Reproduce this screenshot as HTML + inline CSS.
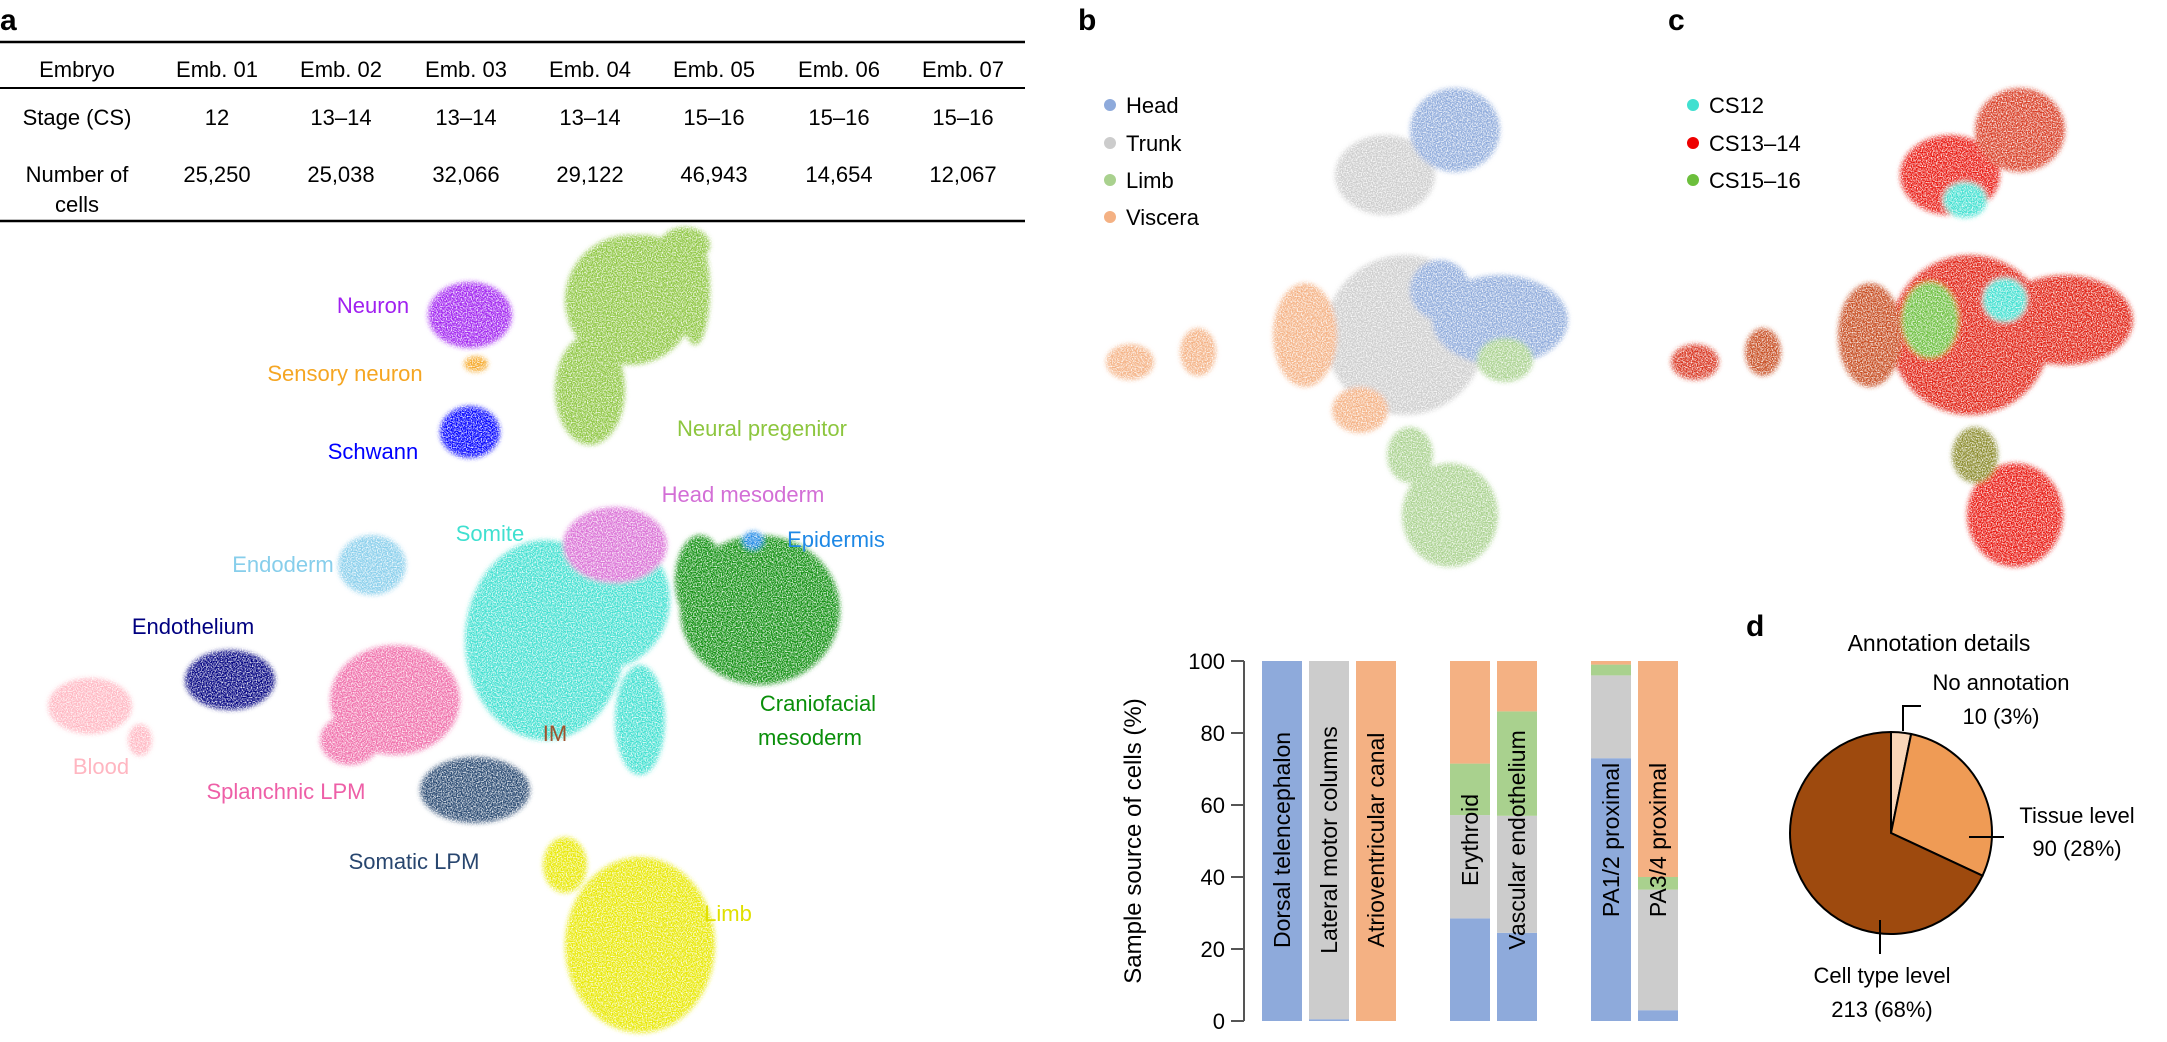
<!DOCTYPE html>
<html><head><meta charset="utf-8"><style>
html,body{margin:0;padding:0;background:#fff;}
svg{display:block;font-family:"Liberation Sans",sans-serif;}
</style></head><body>
<svg id="fig" width="2167" height="1042" viewBox="0 0 2167 1042" xmlns="http://www.w3.org/2000/svg">
<defs>
<filter id="speck" x="-20%" y="-20%" width="140%" height="140%">
<feTurbulence type="fractalNoise" baseFrequency="0.8" numOctaves="1" seed="3" result="n"/>
<feColorMatrix in="n" type="matrix" values="0 0 0 0 0  0 0 0 0 0  0 0 0 0 0  0 0 0 -2.6 2.0" result="m"/>
<feGaussianBlur in="SourceGraphic" stdDeviation="2.5" result="b"/>
<feComposite in="b" in2="m" operator="in"/>
</filter>
</defs>

<text x="0" y="30" font-size="30" font-weight="bold">a</text>
<text x="1078" y="30" font-size="30" font-weight="bold">b</text>
<text x="1668" y="30" font-size="30" font-weight="bold">c</text>
<text x="1746" y="636" font-size="30" font-weight="bold">d</text>

<g font-size="22" text-anchor="middle">
<line x1="0" y1="42" x2="1025" y2="42" stroke="#000" stroke-width="2.5"/>
<line x1="0" y1="88" x2="1025" y2="88" stroke="#000" stroke-width="2"/>
<line x1="0" y1="221" x2="1025" y2="221" stroke="#000" stroke-width="2.5"/>
<text x="77" y="77">Embryo</text>
<text x="217" y="77">Emb. 01</text><text x="341" y="77">Emb. 02</text><text x="466" y="77">Emb. 03</text><text x="590" y="77">Emb. 04</text><text x="714" y="77">Emb. 05</text><text x="839" y="77">Emb. 06</text><text x="963" y="77">Emb. 07</text>
<text x="77" y="125">Stage (CS)</text>
<text x="217" y="125">12</text><text x="341" y="125">13–14</text><text x="466" y="125">13–14</text><text x="590" y="125">13–14</text><text x="714" y="125">15–16</text><text x="839" y="125">15–16</text><text x="963" y="125">15–16</text>
<text x="77" y="182">Number of</text><text x="77" y="212">cells</text>
<text x="217" y="182">25,250</text><text x="341" y="182">25,038</text><text x="466" y="182">32,066</text><text x="590" y="182">29,122</text><text x="714" y="182">46,943</text><text x="839" y="182">14,654</text><text x="963" y="182">12,067</text>
</g>

<g filter="url(#speck)">
<ellipse cx="630" cy="300" rx="65" ry="65" fill="#8dc63f"/>
<ellipse cx="640" cy="270" rx="55" ry="35" fill="#8dc63f"/>
<ellipse cx="590" cy="390" rx="35" ry="55" fill="#8dc63f"/>
<ellipse cx="695" cy="290" rx="15" ry="55" fill="#8dc63f"/>
<ellipse cx="685" cy="245" rx="25" ry="18" fill="#8dc63f"/>
<ellipse cx="470" cy="315" rx="42" ry="33" fill="#a020f0"/>
<ellipse cx="476" cy="364" rx="12" ry="8" fill="#f5a623"/>
<ellipse cx="470" cy="432" rx="30" ry="26" fill="#0000ff"/>
<ellipse cx="372" cy="565" rx="34" ry="30" fill="#87ceeb"/>
<ellipse cx="545" cy="640" rx="80" ry="100" fill="#40e0d0"/>
<ellipse cx="600" cy="600" rx="70" ry="70" fill="#40e0d0"/>
<ellipse cx="640" cy="720" rx="25" ry="55" fill="#40e0d0"/>
<ellipse cx="615" cy="545" rx="52" ry="38" fill="#da70d6"/>
<ellipse cx="760" cy="610" rx="80" ry="75" fill="#0a8f0a"/>
<ellipse cx="700" cy="580" rx="25" ry="45" fill="#0a8f0a"/>
<ellipse cx="753" cy="540" rx="10" ry="9" fill="#1e88e5"/>
<ellipse cx="395" cy="700" rx="65" ry="55" fill="#f06eaa"/>
<ellipse cx="350" cy="740" rx="30" ry="25" fill="#f06eaa"/>
<ellipse cx="475" cy="790" rx="55" ry="33" fill="#28466f"/>
<ellipse cx="640" cy="945" rx="75" ry="88" fill="#e8e800"/>
<ellipse cx="565" cy="865" rx="22" ry="28" fill="#e8e800"/>
<ellipse cx="230" cy="680" rx="45" ry="30" fill="#000080"/>
<ellipse cx="90" cy="706" rx="42" ry="28" fill="#ffb6c1"/>
<ellipse cx="140" cy="740" rx="12" ry="16" fill="#ffb6c1"/>
</g>
<g font-size="22" text-anchor="middle">
<text x="373" y="313" fill="#a020f0">Neuron</text>
<text x="345" y="381" fill="#f5a623">Sensory neuron</text>
<text x="762" y="436" fill="#8dc63f">Neural pregenitor</text>
<text x="373" y="459" fill="#0000ff">Schwann</text>
<text x="743" y="502" fill="#d36fd6">Head mesoderm</text>
<text x="490" y="541" fill="#40e0d0">Somite</text>
<text x="836" y="547" fill="#1e88e5">Epidermis</text>
<text x="283" y="572" fill="#87ceeb">Endoderm</text>
<text x="193" y="634" fill="#000080">Endothelium</text>
<text x="818" y="711" fill="#0a8f0a">Craniofacial</text>
<text x="810" y="745" fill="#0a8f0a">mesoderm</text>
<text x="555" y="741" fill="#a0522d">IM</text>
<text x="101" y="774" fill="#ffb6c1">Blood</text>
<text x="286" y="799" fill="#ee5fa7">Splanchnic LPM</text>
<text x="414" y="869" fill="#28466f">Somatic LPM</text>
<text x="728" y="921" fill="#e0e000">Limb</text>
</g>

<g filter="url(#speck)">
<ellipse cx="1385" cy="175" rx="50" ry="40" fill="#cccccc"/>
<ellipse cx="1455" cy="130" rx="45" ry="42" fill="#8eaadb"/>
<ellipse cx="1405" cy="335" rx="80" ry="80" fill="#cccccc"/>
<ellipse cx="1500" cy="320" rx="68" ry="45" fill="#8eaadb"/>
<ellipse cx="1440" cy="290" rx="30" ry="30" fill="#8eaadb"/>
<ellipse cx="1505" cy="360" rx="28" ry="22" fill="#a9d18e"/>
<ellipse cx="1305" cy="335" rx="32" ry="52" fill="#f4b183"/>
<ellipse cx="1360" cy="410" rx="28" ry="23" fill="#f4b183"/>
<ellipse cx="1130" cy="362" rx="24" ry="18" fill="#f4b183"/>
<ellipse cx="1198" cy="352" rx="18" ry="24" fill="#f4b183"/>
<ellipse cx="1450" cy="515" rx="48" ry="52" fill="#a9d18e"/>
<ellipse cx="1410" cy="455" rx="23" ry="28" fill="#a9d18e"/>
</g>
<g font-size="22">
<circle cx="1110" cy="105" r="6" fill="#8eaadb"/><text x="1126" y="113">Head</text>
<circle cx="1110" cy="143" r="6" fill="#cccccc"/><text x="1126" y="151">Trunk</text>
<circle cx="1110" cy="180" r="6" fill="#a9d18e"/><text x="1126" y="188">Limb</text>
<circle cx="1110" cy="217" r="6" fill="#f4b183"/><text x="1126" y="225">Viscera</text>
</g>

<g filter="url(#speck)">
<ellipse cx="1950" cy="175" rx="50" ry="40" fill="#e8140f"/>
<ellipse cx="2020" cy="130" rx="45" ry="42" fill="#d83a20"/>
<ellipse cx="1965" cy="200" rx="22" ry="18" fill="#40e0d0"/>
<ellipse cx="1970" cy="335" rx="80" ry="80" fill="#e01a10"/>
<ellipse cx="2065" cy="320" rx="68" ry="45" fill="#e01a10"/>
<ellipse cx="1930" cy="320" rx="28" ry="38" fill="#6cbf3c"/>
<ellipse cx="2005" cy="300" rx="22" ry="22" fill="#40e0d0"/>
<ellipse cx="1870" cy="335" rx="32" ry="52" fill="#c6491b"/>
<ellipse cx="1695" cy="362" rx="24" ry="18" fill="#d8301a"/>
<ellipse cx="1763" cy="352" rx="18" ry="24" fill="#c6491b"/>
<ellipse cx="2015" cy="515" rx="48" ry="52" fill="#e8140f"/>
<ellipse cx="1975" cy="455" rx="23" ry="28" fill="#8a8a2a"/>
</g>
<g font-size="22">
<circle cx="1693" cy="105" r="6" fill="#40e0d0"/><text x="1709" y="113">CS12</text>
<circle cx="1693" cy="143" r="6" fill="#ee0000"/><text x="1709" y="151">CS13–14</text>
<circle cx="1693" cy="180" r="6" fill="#6cbf3c"/><text x="1709" y="188">CS15–16</text>
</g>

<g id="barchart"></g>
<g id="pie"></g>
</svg>
<script>
const categories = ["Dorsal telencephalon","Lateral motor columns","Atrioventricular canal","Erythroid","Vascular endothelium","PA1/2 proximal","PA3/4 proximal"];
const slots = [0,1,2,4,5,7,8];
const headVals = [100,0.5,0,28.5,24.5,73,3];
const trunkVals = [0,99.5,0,28.7,32.5,23,33.5];
const limbVals = [0,0,0,14.3,29,3,3.5];
const visceraVals = [0,0,100,28.5,14,1,60];
const yTicks = [0,20,40,60,80,100];
const pieValues = [10,90,213];
const pieLabels = ["No annotation","Tissue level","Cell type level"];
const pieNums = ["10 (3%)","90 (28%)","213 (68%)"];

const NS="http://www.w3.org/2000/svg";
function mk(tag,attrs,parent){const e=document.createElementNS(NS,tag);for(const k in attrs)e.setAttribute(k,attrs[k]);parent.appendChild(e);return e;}
const bc=document.getElementById('barchart');
const X0=1262, STEP=47, BW=40, Y0=1021, YTOP=661;
function yS(v){return Y0-(v/100)*(Y0-YTOP);}
function xS(slot){return X0+slot*STEP;}
const ax=mk('line',{x1:1244,y1:yS(0),x2:1244,y2:yS(100),stroke:'#555','stroke-width':2},bc);


yTicks.forEach(t=>{
  const tl=mk('line',{x1:1231,y1:yS(t),x2:1244,y2:yS(t),stroke:'#555','stroke-width':2},bc);
  
  
  const tx=mk('text',{x:1225,y:yS(t)+8,'font-size':22,'text-anchor':'end'},bc);
  tx.textContent=t;
  
  
});
const yl=mk('text',{x:0,y:0,'font-size':24,'text-anchor':'middle',transform:'translate(1141,841) rotate(-90)'},bc);
yl.textContent='Sample source of cells (%)';


const series=[[headVals,'#8eaadb'],[trunkVals,'#cccccc'],[limbVals,'#a9d18e'],[visceraVals,'#f4b183']];
categories.forEach((c,i)=>{
  let acc=0;
  series.forEach(([vals,col])=>{
    const v=vals[i]; if(v<=0)return;
    const r=mk('rect',{x:xS(slots[i]),y:yS(acc+v),width:BW,height:yS(acc)-yS(acc+v),fill:col},bc);
    
    
    acc+=v;
  });
  const cx=xS(slots[i])+BW/2+8;
  const t=mk('text',{x:0,y:0,'font-size':23,'text-anchor':'middle',transform:`translate(${cx},840) rotate(-90)`},bc);
  t.textContent=c;
  
  
});

const pg=document.getElementById('pie');
const PCX=1891, PCY=833, PR=101;
const pieCols=['#f9d6b8','#ef9b55','#9e4a0e'];
const total=pieValues.reduce((a,b)=>a+b,0);
let ang=-Math.PI/2;
pieValues.forEach((v,i)=>{
  const a2=ang+v/total*2*Math.PI;
  const x1=PCX+PR*Math.cos(ang),y1=PCY+PR*Math.sin(ang),x2=PCX+PR*Math.cos(a2),y2=PCY+PR*Math.sin(a2);
  const large=(a2-ang)>Math.PI?1:0;
  const p=mk('path',{d:`M${PCX},${PCY} L${x1},${y1} A${PR},${PR} 0 ${large} 1 ${x2},${y2} Z`,fill:pieCols[i],stroke:'#000','stroke-width':2},pg);
  
  
  ang=a2;
});
const pt=mk('text',{x:1939,y:651,'font-size':23,'text-anchor':'middle'},pg);
pt.textContent='Annotation details';


const leaders=['M1903,731 L1903,706 L1921,706','M1969,837 L2004,837','M1880,920 L1880,954'];
leaders.forEach(d=>{
  const l=mk('path',{d:d,stroke:'#000','stroke-width':2,fill:'none'},pg);
  
  
});
const labPos=[[2001,690,724],[2077,823,856],[1882,983,1017]];
pieLabels.forEach((s,i)=>{
  const a=mk('text',{x:labPos[i][0],y:labPos[i][1],'font-size':22,'text-anchor':'middle'},pg);
  a.textContent=s;
  
  
  const b=mk('text',{x:labPos[i][0],y:labPos[i][2],'font-size':22,'text-anchor':'middle'},pg);
  b.textContent=pieNums[i];
  
  
});
</script>
</body></html>
